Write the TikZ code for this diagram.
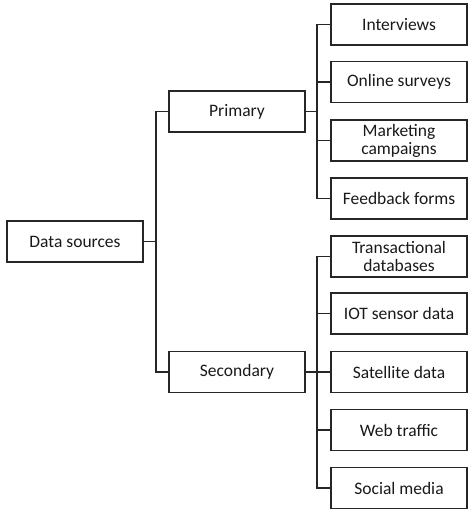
\documentclass[tikz,border=0pt]{standalone}
\usepackage{fontspec}
\setmainfont{Carlito}
\begin{document}
\begin{tikzpicture}[x=1pt,y=-1pt,
  box/.style={draw=black!85,line width=1.2pt,minimum width=136pt,minimum height=41pt,inner sep=1pt,align=center,font=\fontsize{17.5}{18}\selectfont,text=black!90},
  conn/.style={draw=black!85,line width=1.2pt}]
\useasboundingbox (0,0) rectangle (474,513);
\node[box] (ds) at (75,241.5) {Data sources};
\node[box] (pri) at (237,111.5) {Primary};
\node[box] (sec) at (237,372) {Secondary};
\node[box] (i1) at (399,24.5) {Interviews};
\node[box] (i2) at (399,82) {Online surveys};
\node[box] (i3) at (399,140.5) {Marketing\\campaigns};
\node[box] (i4) at (399,198.5) {Feedback forms};
\node[box] (s1) at (399,256.5) {Transactional\\databases};
\node[box] (s2) at (399,313.5) {IOT sensor data};
\node[box] (s3) at (399,372) {Satellite data};
\node[box] (s4) at (399,430) {Web traffic};
\node[box] (s5) at (399,488) {Social media};
\coordinate (j0) at (156,241.5);
\coordinate (j1) at (317,111.5);
\coordinate (j2) at (317,372);
\draw[conn] (ds.east) -- (j0);
\draw[conn] (pri.west) -| (j0) |- (sec.west);
\draw[conn] (pri.east) -- (j1);
\draw[conn] (sec.east) -- (j2);
\foreach \n in {i1,i2,i3,i4} \draw[conn] (j1) |- (\n.west);
\foreach \n in {s1,s2,s3,s4,s5} \draw[conn] (j2) |- (\n.west);
\end{tikzpicture}
\end{document}
